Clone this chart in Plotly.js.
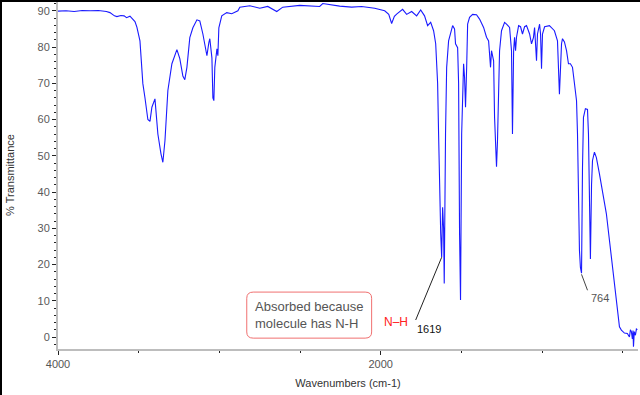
<!DOCTYPE html>
<html>
<head>
<meta charset="utf-8">
<script src="https://cdn.plot.ly/plotly-3.0.1.min.js"></script>
<style>
  html, body { margin: 0; padding: 0; background: #fff; }
  #wrap { position: relative; width: 640px; height: 395px; }
  #chart { position: absolute; left: 0; top: 0; width: 640px; height: 395px; }
  #frame { position: absolute; left: 0; top: 0; width: 640px; height: 395px; box-sizing: border-box;
           border-top: 2px solid #000; border-left: 2px solid #000; pointer-events: none; }
</style>
</head>
<body>
<div id="wrap"><div id="chart"></div><div id="frame"></div></div>
<script>
// Wavenumbers (cm-1)
const wavenumbers = [
  4000, 3950, 3900, 3850, 3800, 3750, 3700, 3678, 3650, 3635, 3610, 3590, 3575, 3554,
  3523, 3511, 3492, 3474, 3461, 3443, 3430, 3418, 3399, 3381, 3362, 3350, 3337, 3319,
  3294, 3263, 3245, 3226, 3214, 3201, 3183, 3164, 3139, 3121, 3102, 3090, 3077, 3065,
  3059, 3046, 3040, 3034, 3028, 3015, 3009, 3003, 2985, 2954, 2923, 2885, 2873, 2811,
  2749, 2700, 2644, 2607, 2502, 2378, 2359, 2254, 2180, 2118, 2037, 1975, 1950, 1932,
  1915, 1901, 1864, 1839, 1808, 1777, 1752, 1728, 1709, 1690, 1672, 1659, 1647, 1641,
  1635, 1628, 1622, 1616, 1610, 1606, 1598, 1591, 1579, 1567, 1554, 1542, 1536, 1523,
  1517, 1511, 1505, 1498, 1492, 1486, 1480, 1474, 1467, 1461, 1449, 1430, 1406, 1387,
  1362, 1344, 1331, 1319, 1313, 1300, 1294, 1288, 1282, 1276, 1269, 1263, 1251, 1232,
  1220, 1201, 1189, 1183, 1176, 1170, 1164, 1158, 1145, 1133, 1121, 1108, 1096, 1077,
  1065, 1053, 1046, 1040, 1034, 1028, 1015, 1009, 1003, 997, 984, 954, 923, 904,
  898, 892, 885, 879, 873, 861, 848, 836, 824, 811, 799, 786, 780, 774,
  768, 762, 755, 749, 743, 731, 718, 712, 706, 700, 693, 687, 675, 663,
  644, 625, 601, 582, 563, 539, 520, 508, 489, 471, 458, 452, 446, 440,
  436, 433, 428, 421, 415, 409
];
// % Transmittance
const transmittance = [
  89.9, 90.0, 89.8, 90.1, 90.0, 90.1, 89.8, 89.5, 88.6, 88.4, 88.7, 88.6, 88.1, 88.5,
  87.0, 85.5, 81.7, 69.9, 66.0, 60.0, 59.5, 63.4, 65.7, 56.0, 50.6, 48.2, 54.2, 68.0,
  75.4, 79.3, 76.8, 72.0, 71.0, 74.4, 82.6, 85.3, 87.5, 87.2, 83.6, 80.9, 77.6, 81.2,
  82.3, 77.0, 66.0, 65.2, 74.4, 79.5, 77.6, 85.3, 88.6, 89.5, 89.2, 90.0, 91.0, 91.4,
  90.7, 91.2, 89.8, 91.0, 91.5, 91.2, 92.0, 91.3, 91.0, 91.2, 90.7, 90.0, 89.0, 86.5,
  88.5, 89.1, 90.4, 89.0, 89.8, 88.6, 90.2, 88.6, 85.9, 86.8, 84.5, 80.9, 70.0, 56.0,
  39.6, 28.6, 22.0, 35.8, 30.0, 14.8, 56.0, 74.4, 81.7, 83.6, 85.9, 85.0, 80.9, 79.8,
  70.0, 28.6, 10.2, 56.0, 71.6, 75.4, 71.6, 63.4, 74.4, 86.3, 88.2, 89.0, 88.9, 87.7,
  85.4, 82.7, 81.7, 74.4, 79.0, 76.2, 60.6, 53.4, 47.0, 54.0, 70.0, 79.0, 84.5, 86.8,
  86.3, 85.4, 79.0, 56.0, 79.0, 82.7, 79.0, 82.7, 85.9, 85.6, 83.6, 85.6, 85.9, 83.6,
  80.9, 82.6, 85.4, 80.9, 76.2, 83.6, 86.3, 83.6, 74.0, 83.6, 85.6, 85.9, 84.5, 81.7,
  74.4, 67.0, 74.4, 80.9, 82.3, 81.4, 79.0, 75.4, 75.4, 74.4, 70.0, 65.2, 56.0, 37.7,
  24.0, 19.3, 17.6, 46.8, 60.6, 63.0, 62.8, 56.0, 37.7, 21.5, 42.0, 48.7, 51.0, 49.5,
  45.0, 39.6, 34.0, 26.7, 19.3, 10.2, 2.8, 1.9, 1.1, 1.0, 0.0, 2.0, 1.5, -0.5,
  1.8, -2.7, 1.5, 0.5, 2.2, 2.0
];
const xTickVals = [4000, 2000];
const xTickText = ['4000', '2000'];
const yTickVals = [0, 10, 20, 30, 40, 50, 60, 70, 80, 90];

const FONT = 'Liberation Sans, Arial, sans-serif';

// rounded annotation box (data coordinates)
const bx0 = 2830, bx1 = 2056, by0 = -0.3, by1 = 12.4, rx = 40, ry = 1.7;
const boxPath = `M ${bx0 - rx} ${by1} L ${bx1 + rx} ${by1} Q ${bx1} ${by1} ${bx1} ${by1 - ry} ` +
  `L ${bx1} ${by0 + ry} Q ${bx1} ${by0} ${bx1 + rx} ${by0} L ${bx0 - rx} ${by0} ` +
  `Q ${bx0} ${by0} ${bx0} ${by0 + ry} L ${bx0} ${by1 - ry} Q ${bx0} ${by1} ${bx0 - rx} ${by1} Z`;

const trace = {
  x: wavenumbers, y: transmittance, type: 'scatter', mode: 'lines',
  line: { color: '#1a1aff', width: 1.1 }, hoverinfo: 'skip'
};

const layout = {
  width: 640, height: 395,
  margin: { l: 58, r: 2, t: 1, b: 46 },
  paper_bgcolor: '#fff', plot_bgcolor: '#fff',
  showlegend: false,
  font: { family: FONT, size: 11, color: '#444' },
  xaxis: {
    range: [4000, 405], showgrid: false, zeroline: false,
    tickmode: 'array', tickvals: xTickVals, ticktext: xTickText,
    ticks: 'outside', ticklen: 4, tickcolor: '#222', tickwidth: 1,
    showline: true, linecolor: '#bdbdbd', linewidth: 2,
    tickfont: { family: FONT, size: 11, color: '#555' },
    minor: { tick0: 0, dtick: 500, ticks: 'outside', ticklen: 2, tickcolor: '#222', tickwidth: 1 },
    title: { text: 'Wavenumbers (cm-1)', font: { family: FONT, size: 11, color: '#333' }, standoff: 10 }
  },
  yaxis: {
    range: [-3.3, 92.7], showgrid: false, zeroline: false,
    tickmode: 'array', tickvals: yTickVals,
    ticks: 'outside', ticklen: 4, tickcolor: '#222', tickwidth: 1,
    showline: true, linecolor: '#bdbdbd', linewidth: 2,
    tickfont: { family: FONT, size: 11, color: '#5a5a5a' },
    minor: { tick0: 0, dtick: 2, ticks: 'outside', ticklen: 2, tickcolor: '#222', tickwidth: 1 },
    title: { text: '% Transmittance', font: { family: FONT, size: 11, color: '#333' }, standoff: 21 }
  },
  shapes: [
    { type: 'path', path: boxPath, xref: 'x', yref: 'y', line: { color: '#f07070', width: 1 }, fillcolor: 'rgba(0,0,0,0)' },
    { type: 'line', xref: 'x', yref: 'y', x0: 1622, y0: 22.0, x1: 1783, y1: 4.7, line: { color: '#222', width: 1 } },
    { type: 'line', xref: 'x', yref: 'y', x0: 755, y0: 17.3, x1: 718, y1: 12.9, line: { color: '#444', width: 1 } }
  ],
  annotations: [
    { x: 2443, y: 6.1, xref: 'x', yref: 'y', showarrow: false, align: 'left',
      text: 'Absorbed because<br>molecule has N-H', font: { family: FONT, size: 13, color: '#555' } },
    { x: 1907, y: 4.1, xref: 'x', yref: 'y', showarrow: false, text: 'N\u2013H',
      font: { family: FONT, size: 12, color: '#ff2020' } },
    { x: 1703, y: 2.2, xref: 'x', yref: 'y', showarrow: false, text: '1619',
      font: { family: FONT, size: 11, color: '#111' } },
    { x: 638, y: 10.7, xref: 'x', yref: 'y', showarrow: false, text: '764',
      font: { family: FONT, size: 11, color: '#555' } }
  ]
};

Plotly.newPlot('chart', [trace], layout, { staticPlot: true, displayModeBar: false });
</script>
</body>
</html>
